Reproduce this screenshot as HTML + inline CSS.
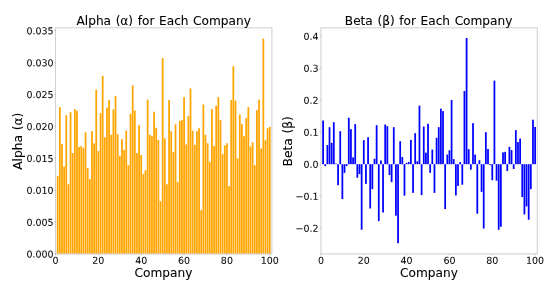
<!DOCTYPE html>
<html><head><meta charset="utf-8"><title>Alpha and Beta for Each Company</title>
<style>html,body{margin:0;padding:0;background:#fff}svg{display:block}</style></head>
<body>
<svg width="550" height="289" viewBox="0 0 550 289">
<rect width="550" height="289" fill="#fff"/>
<g fill="#ffa500"><rect x="56.81" y="176.16" width="1.76" height="77.84"/><rect x="58.96" y="107.12" width="1.76" height="146.88"/><rect x="61.10" y="144.06" width="1.76" height="109.94"/><rect x="63.24" y="166.59" width="1.76" height="87.41"/><rect x="65.38" y="115.16" width="1.76" height="138.84"/><rect x="67.52" y="184.26" width="1.76" height="69.74"/><rect x="69.67" y="112.16" width="1.76" height="141.84"/><rect x="71.81" y="153.06" width="1.76" height="100.94"/><rect x="73.95" y="109.10" width="1.76" height="144.90"/><rect x="76.09" y="110.76" width="1.76" height="143.24"/><rect x="78.23" y="147.06" width="1.76" height="106.94"/><rect x="80.38" y="146.04" width="1.76" height="107.96"/><rect x="82.52" y="148.08" width="1.76" height="105.92"/><rect x="84.66" y="132.26" width="1.76" height="121.74"/><rect x="86.80" y="168.18" width="1.76" height="85.82"/><rect x="88.95" y="179.22" width="1.76" height="74.78"/><rect x="91.09" y="131.24" width="1.76" height="122.76"/><rect x="93.23" y="143.43" width="1.76" height="110.57"/><rect x="95.37" y="89.64" width="1.76" height="164.36"/><rect x="97.51" y="151.08" width="1.76" height="102.92"/><rect x="99.66" y="113.12" width="1.76" height="140.88"/><rect x="101.80" y="75.80" width="1.76" height="178.20"/><rect x="103.94" y="137.24" width="1.76" height="116.76"/><rect x="106.08" y="107.70" width="1.76" height="146.30"/><rect x="108.22" y="100.11" width="1.76" height="153.89"/><rect x="110.37" y="134.81" width="1.76" height="119.19"/><rect x="112.51" y="109.55" width="1.76" height="144.45"/><rect x="114.65" y="96.09" width="1.76" height="157.91"/><rect x="116.79" y="134.24" width="1.76" height="119.76"/><rect x="118.93" y="156.06" width="1.76" height="97.94"/><rect x="121.08" y="139.28" width="1.76" height="114.72"/><rect x="123.22" y="150.06" width="1.76" height="103.94"/><rect x="125.36" y="130.67" width="1.76" height="123.33"/><rect x="127.50" y="165.12" width="1.76" height="88.88"/><rect x="129.64" y="113.76" width="1.76" height="140.24"/><rect x="131.79" y="85.37" width="1.76" height="168.63"/><rect x="133.93" y="110.51" width="1.76" height="143.49"/><rect x="136.07" y="153.06" width="1.76" height="100.94"/><rect x="138.21" y="125.18" width="1.76" height="128.82"/><rect x="140.35" y="155.04" width="1.76" height="98.96"/><rect x="142.50" y="174.18" width="1.76" height="79.82"/><rect x="144.64" y="170.16" width="1.76" height="83.84"/><rect x="146.78" y="99.72" width="1.76" height="154.28"/><rect x="148.92" y="134.81" width="1.76" height="119.19"/><rect x="151.07" y="136.22" width="1.76" height="117.78"/><rect x="153.21" y="111.72" width="1.76" height="142.28"/><rect x="155.35" y="127.80" width="1.76" height="126.20"/><rect x="157.49" y="139.85" width="1.76" height="114.15"/><rect x="159.63" y="201.17" width="1.76" height="52.83"/><rect x="161.78" y="58.13" width="1.76" height="195.87"/><rect x="163.92" y="138.32" width="1.76" height="115.68"/><rect x="166.06" y="184.26" width="1.76" height="69.74"/><rect x="168.20" y="100.11" width="1.76" height="153.89"/><rect x="170.34" y="131.24" width="1.76" height="122.76"/><rect x="172.49" y="152.10" width="1.76" height="101.90"/><rect x="174.63" y="124.29" width="1.76" height="129.71"/><rect x="176.77" y="182.03" width="1.76" height="71.97"/><rect x="178.91" y="120.90" width="1.76" height="133.10"/><rect x="181.05" y="120.08" width="1.76" height="133.92"/><rect x="183.20" y="97.11" width="1.76" height="156.89"/><rect x="185.34" y="144.38" width="1.76" height="109.62"/><rect x="187.48" y="116.18" width="1.76" height="137.82"/><rect x="189.62" y="88.43" width="1.76" height="165.57"/><rect x="191.76" y="130.67" width="1.76" height="123.33"/><rect x="193.91" y="144.83" width="1.76" height="109.17"/><rect x="196.05" y="131.24" width="1.76" height="122.76"/><rect x="198.19" y="128.24" width="1.76" height="125.76"/><rect x="200.33" y="210.16" width="1.76" height="43.84"/><rect x="202.48" y="104.51" width="1.76" height="149.49"/><rect x="204.62" y="134.81" width="1.76" height="119.19"/><rect x="206.76" y="143.23" width="1.76" height="110.77"/><rect x="208.90" y="161.74" width="1.76" height="92.26"/><rect x="211.04" y="109.10" width="1.76" height="144.90"/><rect x="213.19" y="146.04" width="1.76" height="107.96"/><rect x="215.33" y="105.72" width="1.76" height="148.28"/><rect x="217.47" y="97.11" width="1.76" height="156.89"/><rect x="219.61" y="120.14" width="1.76" height="133.86"/><rect x="221.75" y="154.08" width="1.76" height="99.92"/><rect x="223.90" y="145.34" width="1.76" height="108.66"/><rect x="226.04" y="143.23" width="1.76" height="110.77"/><rect x="228.18" y="186.17" width="1.76" height="67.83"/><rect x="230.32" y="100.11" width="1.76" height="153.89"/><rect x="232.46" y="66.23" width="1.76" height="187.77"/><rect x="234.61" y="100.68" width="1.76" height="153.32"/><rect x="236.75" y="158.48" width="1.76" height="95.52"/><rect x="238.89" y="114.52" width="1.76" height="139.48"/><rect x="241.03" y="124.22" width="1.76" height="129.78"/><rect x="243.17" y="136.22" width="1.76" height="117.78"/><rect x="245.32" y="118.16" width="1.76" height="135.84"/><rect x="247.46" y="107.12" width="1.76" height="146.88"/><rect x="249.60" y="146.42" width="1.76" height="107.58"/><rect x="251.74" y="142.28" width="1.76" height="111.72"/><rect x="253.89" y="165.12" width="1.76" height="88.88"/><rect x="256.03" y="110.12" width="1.76" height="143.88"/><rect x="258.17" y="99.66" width="1.76" height="154.34"/><rect x="260.31" y="148.47" width="1.76" height="105.53"/><rect x="262.45" y="38.60" width="1.76" height="215.40"/><rect x="264.60" y="140.24" width="1.76" height="113.76"/><rect x="266.74" y="128.24" width="1.76" height="125.76"/><rect x="268.88" y="126.84" width="1.76" height="127.16"/></g>
<g fill="#0000ff"><rect x="322.21" y="120.52" width="1.76" height="43.68"/><rect x="324.36" y="164.20" width="1.76" height="1.92"/><rect x="326.50" y="145.03" width="1.76" height="19.17"/><rect x="328.64" y="127.18" width="1.76" height="37.02"/><rect x="330.78" y="142.82" width="1.76" height="21.38"/><rect x="332.92" y="122.15" width="1.76" height="42.05"/><rect x="335.06" y="163.56" width="1.76" height="0.64"/><rect x="337.20" y="164.20" width="1.76" height="20.96"/><rect x="339.35" y="131.18" width="1.76" height="33.02"/><rect x="341.49" y="164.20" width="1.76" height="34.82"/><rect x="343.63" y="164.20" width="1.76" height="8.64"/><rect x="345.77" y="164.20" width="1.76" height="1.92"/><rect x="347.91" y="117.74" width="1.76" height="46.46"/><rect x="350.05" y="129.16" width="1.76" height="35.04"/><rect x="352.20" y="157.38" width="1.76" height="6.82"/><rect x="354.34" y="124.14" width="1.76" height="40.06"/><rect x="356.48" y="164.20" width="1.76" height="13.54"/><rect x="358.62" y="164.20" width="1.76" height="9.92"/><rect x="360.76" y="164.20" width="1.76" height="65.57"/><rect x="362.90" y="140.20" width="1.76" height="24.00"/><rect x="365.05" y="164.20" width="1.76" height="19.68"/><rect x="367.19" y="137.19" width="1.76" height="27.01"/><rect x="369.33" y="164.20" width="1.76" height="44.29"/><rect x="371.47" y="164.20" width="1.76" height="24.99"/><rect x="373.61" y="158.82" width="1.76" height="5.38"/><rect x="375.75" y="125.16" width="1.76" height="39.04"/><rect x="377.89" y="164.20" width="1.76" height="56.93"/><rect x="380.04" y="160.52" width="1.76" height="3.68"/><rect x="382.18" y="164.20" width="1.76" height="48.29"/><rect x="384.32" y="124.55" width="1.76" height="39.65"/><rect x="386.46" y="126.15" width="1.76" height="38.05"/><rect x="388.60" y="164.20" width="1.76" height="10.88"/><rect x="390.74" y="164.20" width="1.76" height="17.98"/><rect x="392.89" y="127.18" width="1.76" height="37.02"/><rect x="395.03" y="164.20" width="1.76" height="51.52"/><rect x="397.17" y="164.20" width="1.76" height="79.01"/><rect x="399.31" y="141.22" width="1.76" height="22.98"/><rect x="401.45" y="157.06" width="1.76" height="7.14"/><rect x="403.59" y="164.20" width="1.76" height="31.42"/><rect x="405.74" y="162.92" width="1.76" height="1.28"/><rect x="407.88" y="161.90" width="1.76" height="2.30"/><rect x="410.02" y="139.88" width="1.76" height="24.32"/><rect x="412.16" y="164.20" width="1.76" height="28.64"/><rect x="414.30" y="133.19" width="1.76" height="31.01"/><rect x="416.44" y="161.29" width="1.76" height="2.91"/><rect x="418.58" y="105.67" width="1.76" height="58.53"/><rect x="420.73" y="164.20" width="1.76" height="30.88"/><rect x="422.87" y="126.57" width="1.76" height="37.63"/><rect x="425.01" y="152.68" width="1.76" height="11.52"/><rect x="427.15" y="123.75" width="1.76" height="40.45"/><rect x="429.29" y="164.20" width="1.76" height="8.64"/><rect x="431.43" y="149.61" width="1.76" height="14.59"/><rect x="433.58" y="164.20" width="1.76" height="28.64"/><rect x="435.72" y="137.80" width="1.76" height="26.40"/><rect x="437.86" y="127.18" width="1.76" height="37.02"/><rect x="440.00" y="108.68" width="1.76" height="55.52"/><rect x="442.14" y="111.11" width="1.76" height="53.09"/><rect x="444.28" y="164.20" width="1.76" height="44.86"/><rect x="446.43" y="154.54" width="1.76" height="9.66"/><rect x="448.57" y="150.28" width="1.76" height="13.92"/><rect x="450.71" y="100.07" width="1.76" height="64.13"/><rect x="452.85" y="159.08" width="1.76" height="5.12"/><rect x="454.99" y="164.20" width="1.76" height="31.23"/><rect x="457.13" y="164.20" width="1.76" height="21.70"/><rect x="459.27" y="162.09" width="1.76" height="2.11"/><rect x="461.42" y="164.20" width="1.76" height="20.48"/><rect x="463.56" y="91.02" width="1.76" height="73.18"/><rect x="465.70" y="38.02" width="1.76" height="126.18"/><rect x="467.84" y="149.16" width="1.76" height="15.04"/><rect x="469.98" y="164.20" width="1.76" height="5.50"/><rect x="472.12" y="123.14" width="1.76" height="41.06"/><rect x="474.27" y="154.54" width="1.76" height="9.66"/><rect x="476.41" y="164.20" width="1.76" height="49.50"/><rect x="478.55" y="160.20" width="1.76" height="4.00"/><rect x="480.69" y="164.20" width="1.76" height="27.68"/><rect x="482.83" y="164.20" width="1.76" height="64.35"/><rect x="484.97" y="132.20" width="1.76" height="32.00"/><rect x="487.12" y="149.03" width="1.76" height="15.17"/><rect x="489.26" y="164.20" width="1.76" height="0.96"/><rect x="491.40" y="164.20" width="1.76" height="16.00"/><rect x="493.54" y="80.62" width="1.76" height="83.58"/><rect x="495.68" y="164.20" width="1.76" height="16.48"/><rect x="497.82" y="164.20" width="1.76" height="65.57"/><rect x="499.97" y="164.20" width="1.76" height="62.56"/><rect x="502.11" y="152.36" width="1.76" height="11.84"/><rect x="504.25" y="151.88" width="1.76" height="12.32"/><rect x="506.39" y="164.20" width="1.76" height="6.72"/><rect x="508.53" y="146.79" width="1.76" height="17.41"/><rect x="510.67" y="150.06" width="1.76" height="14.14"/><rect x="512.81" y="164.20" width="1.76" height="4.80"/><rect x="514.96" y="130.18" width="1.76" height="34.02"/><rect x="517.10" y="142.12" width="1.76" height="22.08"/><rect x="519.24" y="138.60" width="1.76" height="25.60"/><rect x="521.38" y="164.20" width="1.76" height="32.83"/><rect x="523.52" y="164.20" width="1.76" height="50.30"/><rect x="525.66" y="164.20" width="1.76" height="42.27"/><rect x="527.81" y="164.20" width="1.76" height="55.52"/><rect x="529.95" y="164.20" width="1.76" height="24.99"/><rect x="532.09" y="119.72" width="1.76" height="44.48"/><rect x="534.23" y="126.92" width="1.76" height="37.28"/></g>
<rect x="55.55" y="27.85" width="216.35" height="226.10" fill="none" stroke="#cecece" stroke-width="1"/>
<rect x="320.95" y="27.85" width="216.30" height="226.10" fill="none" stroke="#cecece" stroke-width="1"/>
<g font-family="'DejaVu Sans','Liberation Sans',sans-serif" font-size="9.5" fill="#000" stroke="#000" stroke-width="0.05" transform="matrix(1 0.001 0 1 0 0)">
<text x="55.55" y="263.64" text-anchor="middle">0</text>
<text x="320.95" y="263.38" text-anchor="middle">0</text>
<text x="98.39" y="263.60" text-anchor="middle">20</text>
<text x="363.78" y="263.34" text-anchor="middle">20</text>
<text x="141.23" y="263.56" text-anchor="middle">40</text>
<text x="406.61" y="263.29" text-anchor="middle">40</text>
<text x="184.07" y="263.52" text-anchor="middle">60</text>
<text x="449.45" y="263.25" text-anchor="middle">60</text>
<text x="226.92" y="263.47" text-anchor="middle">80</text>
<text x="492.28" y="263.21" text-anchor="middle">80</text>
<text x="269.76" y="263.43" text-anchor="middle">100</text>
<text x="535.11" y="263.16" text-anchor="middle">100</text>
<text x="53.6" y="257.55" text-anchor="end">0.000</text>
<text x="53.6" y="225.65" text-anchor="end">0.005</text>
<text x="53.6" y="193.75" text-anchor="end">0.010</text>
<text x="53.6" y="161.85" text-anchor="end">0.015</text>
<text x="53.6" y="129.95" text-anchor="end">0.020</text>
<text x="53.6" y="98.05" text-anchor="end">0.025</text>
<text x="53.6" y="66.15" text-anchor="end">0.030</text>
<text x="53.6" y="34.25" text-anchor="end">0.035</text>
<text x="318.6" y="231.38" text-anchor="end">−0.2</text>
<text x="318.6" y="199.38" text-anchor="end">−0.1</text>
<text x="318.6" y="167.38" text-anchor="end">0.0</text>
<text x="318.6" y="135.38" text-anchor="end">0.1</text>
<text x="318.6" y="103.38" text-anchor="end">0.2</text>
<text x="318.6" y="71.38" text-anchor="end">0.3</text>
<text x="318.6" y="39.38" text-anchor="end">0.4</text>
</g>
<g stroke="#8a8a8a" stroke-width="0.45" fill="none"><path d="M55.55 253.95v1.4"/><path d="M320.95 253.95v1.4"/><path d="M98.39 253.95v1.4"/><path d="M363.78 253.95v1.4"/><path d="M141.23 253.95v1.4"/><path d="M406.61 253.95v1.4"/><path d="M184.07 253.95v1.4"/><path d="M449.45 253.95v1.4"/><path d="M226.92 253.95v1.4"/><path d="M492.28 253.95v1.4"/><path d="M269.76 253.95v1.4"/><path d="M535.11 253.95v1.4"/><path d="M55.55 253.80h-1.4"/><path d="M55.55 221.90h-1.4"/><path d="M55.55 190.00h-1.4"/><path d="M55.55 158.10h-1.4"/><path d="M55.55 126.20h-1.4"/><path d="M55.55 94.30h-1.4"/><path d="M55.55 62.40h-1.4"/><path d="M55.55 30.50h-1.4"/><path d="M320.95 228.20h-1.4"/><path d="M320.95 196.20h-1.4"/><path d="M320.95 164.20h-1.4"/><path d="M320.95 132.20h-1.4"/><path d="M320.95 100.20h-1.4"/><path d="M320.95 68.20h-1.4"/><path d="M320.95 36.20h-1.4"/></g>
<g font-family="'DejaVu Sans','Liberation Sans',sans-serif" fill="#000" stroke="#000" stroke-width="0.09">
<text x="163.7" y="24.5" font-size="12.15" word-spacing="0.75" text-anchor="middle">Alpha (α) for Each Company</text>
<text x="428.6" y="24.5" font-size="12.15" word-spacing="0.75" text-anchor="middle">Beta (β) for Each Company</text>
<text x="163.5" y="276.8" font-size="12.15" text-anchor="middle">Company</text>
<text x="429" y="276.8" font-size="12.15" text-anchor="middle">Company</text>
<text transform="translate(22.4,141.3) rotate(-90)" font-size="12.25" word-spacing="0.75" text-anchor="middle">Alpha (α)</text>
<text transform="translate(291.9,141.35) rotate(-90)" font-size="12.25" word-spacing="0.75" text-anchor="middle">Beta (β)</text>
</g>
</svg>
</body></html>
